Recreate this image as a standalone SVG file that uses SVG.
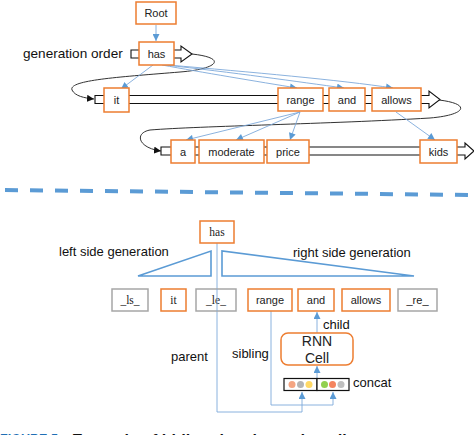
<svg xmlns="http://www.w3.org/2000/svg" width="474" height="435" viewBox="0 0 474 435">
<style>
.box{fill:#fff;stroke:#ed7d31;stroke-width:1.5}
.gbox{fill:#fff;stroke:#a6a6a6;stroke-width:1.5}
.t{font-family:"Liberation Sans",Arial,sans-serif;font-size:11px;fill:#222;text-anchor:middle;dominant-baseline:central}
.ts{font-family:"Liberation Serif","Times New Roman",serif;font-size:11.5px;fill:#222;text-anchor:middle;dominant-baseline:central}
.lbl{font-family:"Liberation Sans",Arial,sans-serif;font-size:13px;fill:#111;dominant-baseline:central}
.band{fill:#fff;stroke:#111;stroke-width:1.1}
.blue{fill:none;stroke:#7ea9da;stroke-width:0.9}
.curve{fill:none;stroke:#333;stroke-width:1}
.tri{fill:none;stroke:#5b9bd5;stroke-width:1.6}
</style>
<defs>
<marker id="ba" viewBox="0 0 10 10" refX="10" refY="5" markerWidth="8" markerHeight="7" markerUnits="userSpaceOnUse" orient="auto"><path d="M0,0 L10,5 L0,10 z" fill="#5b9bd5"/></marker>
<marker id="ka" viewBox="0 0 10 10" refX="10" refY="5" markerWidth="7" markerHeight="7" markerUnits="userSpaceOnUse" orient="auto"><path d="M0,0 L10,5 L0,10 z" fill="#111"/></marker>
</defs>

<g id="bands">
<path class="band" d="M131,50 H181 V46 L192,54 L181,62 V58 H131 Z"/>
<path class="band" d="M95,95.5 H429 V91 L440,99.5 L429,108 V103.5 H95 Z"/>
<path class="band" d="M161,147 H465 V143 L474,151 L465,159 V155 H161 Z"/>
</g>

<g id="connectors">
<path class="curve" marker-end="url(#ka)" d="M192,54 C228,58 218,69 180,72 C120,77 68,80 72,90 C75,96 84,98 94,99"/>
<path class="curve" marker-end="url(#ka)" d="M439,100 C472,104 466,115 430,118 C330,124 200,126 150,130 C134,133 138,148 161,151"/>
<line class="blue" x1="156" y1="25" x2="156" y2="41" marker-end="url(#ba)"/>
<line class="blue" x1="153" y1="65" x2="121" y2="89" marker-end="url(#ba)"/>
<path class="blue" d="M162,65 C200,72 260,82 297,88" marker-end="url(#ba)"/>
<path class="blue" d="M165,65 C230,72 300,82 344,88" marker-end="url(#ba)"/>
<path class="blue" d="M168,65 C250,72 340,80 393,88" marker-end="url(#ba)"/>
<line class="blue" x1="300" y1="112" x2="186" y2="140" marker-end="url(#ba)"/>
<line class="blue" x1="300" y1="112" x2="236" y2="140" marker-end="url(#ba)"/>
<line class="blue" x1="300" y1="112" x2="290" y2="140" marker-end="url(#ba)"/>
<line class="blue" x1="396" y1="112" x2="435" y2="140" marker-end="url(#ba)"/>
<line x1="5" y1="190" x2="474" y2="195" stroke="#5b9bd5" stroke-width="4" stroke-dasharray="13,12"/>
<path class="tri" d="M138,276 L211,251 V276 Z"/>
<path class="tri" d="M222,251 V276 H414 Z"/>
<path class="blue" d="M217,243 V412 H302 V392" marker-end="url(#ba)"/>
<path class="blue" d="M271,311 V405 H333 V392" marker-end="url(#ba)"/>
<line class="blue" x1="317" y1="333" x2="317" y2="312" marker-end="url(#ba)"/>
<line class="blue" x1="317" y1="378" x2="317" y2="366" marker-end="url(#ba)"/>
</g>

<g id="root"><rect class="box" x="136" y="2" width="40" height="22"/><text class="t" x="156" y="13">Root</text></g>
<text class="lbl" x="23" y="53" style="font-size:13.6px">generation order</text>
<g id="has"><rect class="box" x="139" y="42" width="35" height="23"/><text class="t" x="156.5" y="53.5">has</text></g>
<g id="it"><rect class="box" x="104" y="88" width="25" height="24"/><text class="t" x="116.5" y="100">it</text></g>
<g id="range"><rect class="box" x="278" y="88" width="45" height="23"/><text class="t" x="300.5" y="99.5">range</text></g>
<g id="and"><rect class="box" x="329" y="88" width="36" height="23"/><text class="t" x="347" y="99.5">and</text></g>
<g id="allows"><rect class="box" x="372" y="88" width="49" height="23"/><text class="t" x="396.5" y="99.5">allows</text></g>
<g id="a"><rect class="box" x="171" y="140" width="24" height="23"/><text class="t" x="183" y="151.5">a</text></g>
<g id="moderate"><rect class="box" x="199" y="140" width="65" height="23"/><text class="t" x="231.5" y="151.5">moderate</text></g>
<g id="price"><rect class="box" x="267" y="140" width="42" height="23"/><text class="t" x="288" y="151.5">price</text></g>
<g id="kids"><rect class="box" x="420" y="140" width="37" height="23"/><text class="t" x="438.5" y="151.5">kids</text></g>

<text class="lbl" x="59" y="251">left side generation</text>
<text class="lbl" x="293" y="252">right side generation</text>

<g id="has2"><rect class="box" x="200" y="221" width="34" height="22"/><text class="ts" x="217" y="232">has</text></g>
<g id="ls"><rect class="gbox" x="112" y="289" width="36" height="22"/><text class="ts" x="130" y="300">_ls_</text></g>
<g id="it2"><rect class="box" x="161" y="289" width="25" height="22"/><text class="ts" x="173.5" y="300">it</text></g>
<g id="le"><rect class="gbox" x="196" y="289" width="40" height="22"/><text class="ts" x="216" y="300">_le_</text></g>
<line class="blue" x1="217" y1="289" x2="217" y2="311"/>
<g id="range2"><rect class="box" x="248" y="289" width="44" height="22"/><text class="t" x="270" y="300">range</text></g>
<g id="and2"><rect class="box" x="298" y="289" width="36" height="22"/><text class="t" x="316" y="300">and</text></g>
<g id="allows2"><rect class="box" x="342" y="289" width="48" height="22"/><text class="t" x="366" y="300">allows</text></g>
<g id="re"><rect class="gbox" x="398" y="289" width="39" height="22"/><text class="t" x="417.5" y="300">_re_</text></g>

<text class="lbl" x="323" y="324">child</text>
<g id="rnn"><rect x="281" y="333" width="72" height="32" rx="7" fill="#fff" stroke="#ed7d31" stroke-width="1.5"/>
<text class="t" x="317" y="341" style="font-size:14px">RNN</text><text class="t" x="317" y="358" style="font-size:14px">Cell</text></g>
<text class="lbl" x="171" y="356">parent</text>
<text class="lbl" x="232" y="353">sibling</text>

<g id="concat">
<rect x="284" y="378.5" width="33" height="12" fill="#fff" stroke="#111" stroke-width="1.2"/>
<rect x="317" y="378.5" width="32" height="12" fill="#fff" stroke="#111" stroke-width="1.2"/>
<circle cx="292" cy="384.5" r="3.5" fill="#f4a582"/>
<circle cx="300.5" cy="384.5" r="3.5" fill="#b4b4b4"/>
<circle cx="309" cy="384.5" r="3.5" fill="#ffd966"/>
<circle cx="324.5" cy="384.5" r="3.5" fill="#92d050"/>
<circle cx="332.5" cy="384.5" r="3.5" fill="#f4845f"/>
<circle cx="341" cy="384.5" r="3.5" fill="#bfbfbf"/>
</g>
<text class="lbl" x="353" y="382">concat</text>

<text y="445.5" style="font-family:'Liberation Sans',Arial,sans-serif;font-size:16px;font-weight:bold"><tspan x="0" fill="#1f6fb5" textLength="58" lengthAdjust="spacingAndGlyphs">FIGURE 5</tspan><tspan fill="#111" x="72">Example of bidirectional tree decoding</tspan></text>
</svg>
